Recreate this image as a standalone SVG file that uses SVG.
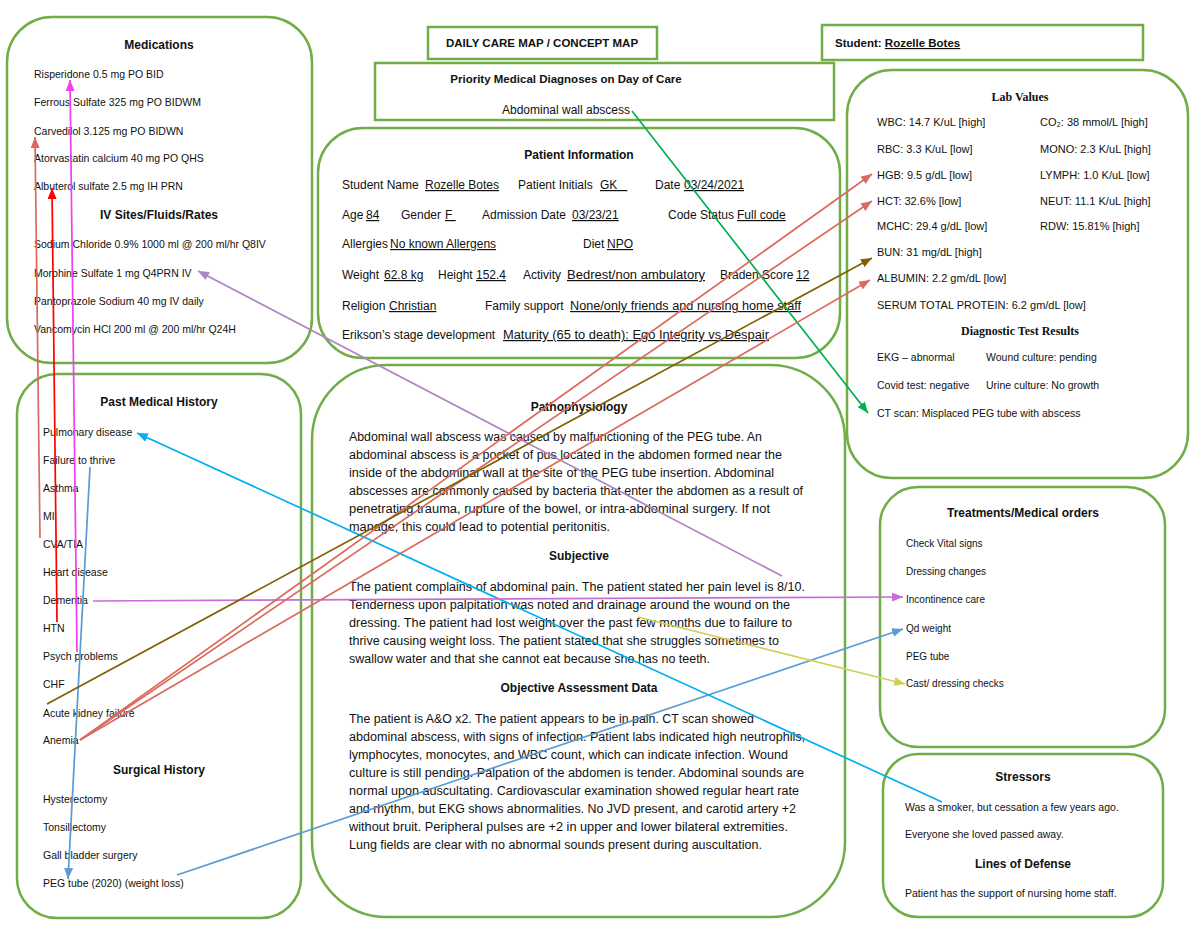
<svg xmlns="http://www.w3.org/2000/svg" width="1200" height="927" viewBox="0 0 1200 927">
<style>
.box{fill:#fff;stroke:#70AD47;stroke-width:2.5}
.t{font-family:"Liberation Sans",Arial,sans-serif;font-size:10.5px;fill:#111}
.h{font-family:"Liberation Sans",Arial,sans-serif;font-size:12px;font-weight:bold;fill:#111;text-anchor:middle}
.p{font-family:"Liberation Sans",Arial,sans-serif;font-size:12px;fill:#111}
.para{font-family:"Liberation Sans",Arial,sans-serif;font-size:12.5px;fill:#111}
.u{text-decoration:underline}
.lab{font-family:"Liberation Sans",Arial,sans-serif;font-size:11px;fill:#111}
.labh{font-family:"Liberation Serif","Times New Roman",serif;font-size:12px;font-weight:bold;fill:#111;text-anchor:middle}
.dg{font-family:"Liberation Sans",Arial,sans-serif;font-size:10.5px;fill:#111}
.tr{font-family:"Liberation Sans",Arial,sans-serif;font-size:10px;fill:#111}
.c{fill:none;stroke-width:1.7}
</style>
<defs>
<marker id="a-pink" markerUnits="userSpaceOnUse" markerWidth="11" markerHeight="9" refX="11" refY="4.5" orient="auto"><path d="M0,0 L11,4.5 L0,9 z" fill="#F23DF2"/></marker>
<marker id="a-salmon" markerUnits="userSpaceOnUse" markerWidth="11" markerHeight="9" refX="11" refY="4.5" orient="auto"><path d="M0,0 L11,4.5 L0,9 z" fill="#DB6A5E"/></marker>
<marker id="a-red" markerUnits="userSpaceOnUse" markerWidth="11" markerHeight="9" refX="11" refY="4.5" orient="auto"><path d="M0,0 L11,4.5 L0,9 z" fill="#FF0000"/></marker>
<marker id="a-blue" markerUnits="userSpaceOnUse" markerWidth="11" markerHeight="9" refX="11" refY="4.5" orient="auto"><path d="M0,0 L11,4.5 L0,9 z" fill="#5B9BD5"/></marker>
<marker id="a-cyan" markerUnits="userSpaceOnUse" markerWidth="11" markerHeight="9" refX="11" refY="4.5" orient="auto"><path d="M0,0 L11,4.5 L0,9 z" fill="#00B0F0"/></marker>
<marker id="a-violet" markerUnits="userSpaceOnUse" markerWidth="11" markerHeight="9" refX="11" refY="4.5" orient="auto"><path d="M0,0 L11,4.5 L0,9 z" fill="#C86DD7"/></marker>
<marker id="a-lilac" markerUnits="userSpaceOnUse" markerWidth="11" markerHeight="9" refX="11" refY="4.5" orient="auto"><path d="M0,0 L11,4.5 L0,9 z" fill="#B084C4"/></marker>
<marker id="a-yellow" markerUnits="userSpaceOnUse" markerWidth="11" markerHeight="9" refX="11" refY="4.5" orient="auto"><path d="M0,0 L11,4.5 L0,9 z" fill="#CFCF5A"/></marker>
<marker id="a-green" markerUnits="userSpaceOnUse" markerWidth="11" markerHeight="9" refX="11" refY="4.5" orient="auto"><path d="M0,0 L11,4.5 L0,9 z" fill="#00B050"/></marker>
<marker id="a-brown" markerUnits="userSpaceOnUse" markerWidth="11" markerHeight="9" refX="11" refY="4.5" orient="auto"><path d="M0,0 L11,4.5 L0,9 z" fill="#7F6000"/></marker>
</defs>
<rect width="1200" height="927" fill="#fff"/>

<g id="medications">
<rect class="box" x="7" y="17" width="305" height="346" rx="45"/>
<text class="h" x="159" y="49">Medications</text>
<text class="t" x="34" y="78">Risperidone 0.5 mg PO BID</text>
<text class="t" x="34" y="106">Ferrous Sulfate 325 mg PO BIDWM</text>
<text class="t" x="34" y="135">Carvedilol 3.125 mg PO BIDWN</text>
<text class="t" x="34" y="162">Atorvastatin calcium 40 mg PO QHS</text>
<text class="t" x="34" y="190">Albuterol sulfate 2.5 mg IH PRN</text>
<text class="h" x="159" y="219">IV Sites/Fluids/Rates</text>
<text class="t" x="34" y="248">Sodium Chloride 0.9% 1000 ml @ 200 ml/hr Q8IV</text>
<text class="t" x="34" y="277">Morphine Sulfate 1 mg Q4PRN IV</text>
<text class="t" x="34" y="305">Pantoprazole Sodium 40 mg IV daily</text>
<text class="t" x="34" y="333">Vancomycin HCl 200 ml @ 200 ml/hr Q24H</text>
</g>

<g id="past-medical-history">
<rect class="box" x="17" y="374" width="284" height="544" rx="40"/>
<text class="h" x="159" y="406">Past Medical History</text>
<text class="t" x="43" y="436">Pulmonary disease</text>
<text class="t" x="43" y="464">Failure to thrive</text>
<text class="t" x="43" y="492">Asthma</text>
<text class="t" x="43" y="520">MI</text>
<text class="t" x="43" y="548">CVA/TIA</text>
<text class="t" x="43" y="576">Heart disease</text>
<text class="t" x="43" y="604">Dementia</text>
<text class="t" x="43" y="632">HTN</text>
<text class="t" x="43" y="660">Psych problems</text>
<text class="t" x="43" y="688">CHF</text>
<text class="t" x="43" y="717">Acute kidney failure</text>
<text class="t" x="43" y="744">Anemia</text>
<text class="h" x="159" y="774">Surgical History</text>
<text class="t" x="43" y="803">Hysterectomy</text>
<text class="t" x="43" y="831">Tonsillectomy</text>
<text class="t" x="43" y="859">Gall bladder surgery</text>
<text class="t" x="43" y="887">PEG tube (2020) (weight loss)</text>
</g>

<g id="title">
<rect x="428" y="27" width="229" height="32" fill="#fff" stroke="#70AD47" stroke-width="2.5"/>
<text class="h" x="542" y="47" style="font-size:11.5px">DAILY CARE MAP / CONCEPT MAP</text>
</g>

<g id="student">
<rect x="822" y="25" width="321" height="35" fill="#fff" stroke="#70AD47" stroke-width="2.5"/>
<text x="835" y="47" style="font-family:'Liberation Sans',Arial,sans-serif;font-size:11.5px;font-weight:bold;fill:#111">Student: <tspan class="u">Rozelle Botes</tspan></text>
</g>

<g id="priority-diagnoses">
<rect x="375" y="63" width="459" height="57" fill="#fff" stroke="#70AD47" stroke-width="2.5"/>
<text class="h" x="566" y="83" style="font-size:11.5px">Priority Medical Diagnoses on Day of Care</text>
<text class="p" x="566" y="114" text-anchor="middle">Abdominal wall abscess</text>
</g>

<g id="patient-information">
<rect class="box" x="318" y="128" width="522" height="230" rx="45"/>
<text class="h" x="579" y="159">Patient Information</text>
<text class="p" x="342" y="189">Student Name</text>
<text class="p u" x="425" y="189">Rozelle Botes</text>
<text class="p" x="518" y="189">Patient Initials</text>
<text class="p u" x="600" y="189" xml:space="preserve">GK   </text>
<text class="p" x="655" y="189">Date</text>
<text class="p u" x="684" y="189">03/24/2021</text>
<text class="p" x="342" y="219">Age</text>
<text class="p u" x="366" y="219">84</text>
<text class="p" x="401" y="219">Gender</text>
<text class="p u" x="445" y="219" xml:space="preserve">F </text>
<text class="p" x="482" y="219">Admission Date</text>
<text class="p u" x="572" y="219">03/23/21</text>
<text class="p" x="668" y="219">Code Status</text>
<text class="p u" x="737" y="219">Full code</text>
<text class="p" x="342" y="248">Allergies</text>
<text class="p u" x="390" y="248">No known Allergens</text>
<text class="p" x="583" y="248">Diet</text>
<text class="p u" x="607" y="248">NPO</text>
<text class="p" x="342" y="279">Weight</text>
<text class="p u" x="384" y="279">62.8 kg</text>
<text class="p" x="438" y="279">Height</text>
<text class="p u" x="476" y="279">152.4</text>
<text class="p" x="523" y="279">Activity</text>
<text class="p u" x="567" y="279" textLength="138" lengthAdjust="spacingAndGlyphs">Bedrest/non ambulatory</text>
<text class="p" x="720" y="279">Braden Score</text>
<text class="p u" x="796" y="279">12</text>
<text class="p" x="342" y="310">Religion</text>
<text class="p u" x="389" y="310">Christian</text>
<text class="p" x="485" y="310">Family support</text>
<text class="p u" x="570" y="310" textLength="231" lengthAdjust="spacingAndGlyphs">None/only friends and nursing home staff</text>
<text class="p" x="342" y="339">Erikson’s stage development</text>
<text class="p u" x="503" y="339" textLength="266" lengthAdjust="spacingAndGlyphs">Maturity (65 to death): Ego Integrity vs Despair</text>
</g>

<g id="pathophysiology">
<rect class="box" x="312" y="365" width="533" height="552" rx="75"/>
<text class="h" x="579" y="411">Pathophysiology</text>
<text class="para" x="349" y="441" textLength="413" lengthAdjust="spacingAndGlyphs">Abdominal wall abscess was caused by malfunctioning of the PEG tube. An</text>
<text class="para" x="349" y="459" textLength="433" lengthAdjust="spacingAndGlyphs">abdominal abscess is a pocket of pus located in the abdomen formed near the</text>
<text class="para" x="349" y="477" textLength="425" lengthAdjust="spacingAndGlyphs">inside of the abdominal wall at the site of the PEG tube insertion. Abdominal</text>
<text class="para" x="349" y="495" textLength="454" lengthAdjust="spacingAndGlyphs">abscesses are commonly caused by bacteria that enter the abdomen as a result of</text>
<text class="para" x="349" y="513" textLength="421" lengthAdjust="spacingAndGlyphs">penetrating trauma, rupture of the bowel, or intra-abdominal surgery. If not</text>
<text class="para" x="349" y="531" textLength="261" lengthAdjust="spacingAndGlyphs">manage, this could lead to potential peritonitis.</text>
<text class="h" x="579" y="560">Subjective</text>
<text class="para" x="349" y="591" textLength="456" lengthAdjust="spacingAndGlyphs">The patient complains of abdominal pain. The patient stated her pain level is 8/10.</text>
<text class="para" x="349" y="609" textLength="441" lengthAdjust="spacingAndGlyphs">Tenderness upon palpitation was noted and drainage around the wound on the</text>
<text class="para" x="349" y="627" textLength="443" lengthAdjust="spacingAndGlyphs">dressing. The patient had lost weight over the past few months due to failure to</text>
<text class="para" x="349" y="645" textLength="430" lengthAdjust="spacingAndGlyphs">thrive causing weight loss. The patient stated that she struggles sometimes to</text>
<text class="para" x="349" y="663" textLength="361" lengthAdjust="spacingAndGlyphs">swallow water and that she cannot eat because she has no teeth.</text>
<text class="h" x="579" y="692">Objective Assessment Data</text>
<text class="para" x="349" y="723" textLength="405" lengthAdjust="spacingAndGlyphs">The patient is A&amp;O x2. The patient appears to be in pain. CT scan showed</text>
<text class="para" x="349" y="741" textLength="456" lengthAdjust="spacingAndGlyphs">abdominal abscess, with signs of infection. Patient labs indicated high neutrophils,</text>
<text class="para" x="349" y="759" textLength="439" lengthAdjust="spacingAndGlyphs">lymphocytes, monocytes, and WBC count, which can indicate infection. Wound</text>
<text class="para" x="349" y="777" textLength="455" lengthAdjust="spacingAndGlyphs">culture is still pending. Palpation of the abdomen is tender. Abdominal sounds are</text>
<text class="para" x="349" y="795" textLength="450" lengthAdjust="spacingAndGlyphs">normal upon auscultating. Cardiovascular examination showed regular heart rate</text>
<text class="para" x="349" y="813" textLength="447" lengthAdjust="spacingAndGlyphs">and rhythm, but EKG shows abnormalities. No JVD present, and carotid artery +2</text>
<text class="para" x="349" y="831" textLength="439" lengthAdjust="spacingAndGlyphs">without bruit. Peripheral pulses are +2 in upper and lower bilateral extremities.</text>
<text class="para" x="349" y="849" textLength="413" lengthAdjust="spacingAndGlyphs">Lung fields are clear with no abnormal sounds present during auscultation.</text>
</g>

<g id="lab-values">
<rect class="box" x="847" y="70" width="341" height="408" rx="45"/>
<text class="labh" x="1020" y="101">Lab Values</text>
<text class="lab" x="877" y="126">WBC: 14.7 K/uL [high]</text>
<text class="lab" x="877" y="153">RBC: 3.3 K/uL [low]</text>
<text class="lab" x="877" y="179">HGB: 9.5 g/dL [low]</text>
<text class="lab" x="877" y="205">HCT: 32.6% [low]</text>
<text class="lab" x="877" y="230">MCHC: 29.4 g/dL [low]</text>
<text class="lab" x="877" y="256">BUN: 31 mg/dL [high]</text>
<text class="lab" x="877" y="282">ALBUMIN: 2.2 gm/dL [low]</text>
<text class="lab" x="877" y="309">SERUM TOTAL PROTEIN: 6.2 gm/dL [low]</text>
<text class="lab" x="1040" y="126">CO₂: 38 mmol/L [high]</text>
<text class="lab" x="1040" y="153">MONO: 2.3 K/uL [high]</text>
<text class="lab" x="1040" y="179">LYMPH: 1.0 K/uL [low]</text>
<text class="lab" x="1040" y="205">NEUT: 11.1 K/uL [high]</text>
<text class="lab" x="1040" y="230">RDW: 15.81% [high]</text>
<text class="labh" x="1020" y="335">Diagnostic Test Results</text>
<text class="dg" x="877" y="361">EKG – abnormal</text>
<text class="dg" x="986" y="361">Wound culture: pending</text>
<text class="dg" x="877" y="389">Covid test: negative</text>
<text class="dg" x="986" y="389">Urine culture: No growth</text>
<text class="dg" x="877" y="417">CT scan: Misplaced PEG tube with abscess</text>
</g>

<g id="treatments">
<rect class="box" x="880" y="487" width="285" height="260" rx="38"/>
<text class="h" x="1023" y="517">Treatments/Medical orders</text>
<text class="tr" x="906" y="547">Check Vital signs</text>
<text class="tr" x="906" y="575">Dressing changes</text>
<text class="tr" x="906" y="603">Incontinence care</text>
<text class="tr" x="906" y="632">Qd weight</text>
<text class="tr" x="906" y="660">PEG tube</text>
<text class="tr" x="906" y="687">Cast/ dressing checks</text>
</g>

<g id="stressors">
<rect class="box" x="883" y="754" width="280" height="163" rx="35"/>
<text class="h" x="1023" y="781">Stressors</text>
<text class="t" x="905" y="811">Was a smoker, but cessation a few years ago.</text>
<text class="t" x="905" y="838">Everyone she loved passed away.</text>
<text class="h" x="1023" y="868">Lines of Defense</text>
<text class="t" x="905" y="897">Patient has the support of nursing home staff.</text>
</g>

<g id="connectors">
<line class="c" x1="77" y1="652" x2="70" y2="80" stroke="#F23DF2" marker-end="url(#a-pink)"/>
<line class="c" x1="40" y1="538" x2="35" y2="137" stroke="#DB6A5E" marker-end="url(#a-salmon)"/>
<line class="c" x1="57" y1="622" x2="52" y2="188" stroke="#FF0000" stroke-width="2" marker-end="url(#a-red)"/>
<line class="c" x1="90" y1="467" x2="68" y2="879" stroke="#5B9BD5" marker-end="url(#a-blue)"/>
<line class="c" x1="177" y1="875" x2="903" y2="629" stroke="#5B9BD5" marker-end="url(#a-blue)"/>
<line class="c" x1="942" y1="802" x2="137" y2="433" stroke="#00B0F0" stroke-width="2" marker-end="url(#a-cyan)"/>
<line class="c" x1="93" y1="601" x2="903" y2="597" stroke="#C86DD7" marker-end="url(#a-violet)"/>
<line class="c" x1="782" y1="576" x2="198" y2="271" stroke="#B084C4" marker-end="url(#a-lilac)"/>
<line class="c" x1="638" y1="617" x2="905" y2="684" stroke="#CFCF5A" marker-end="url(#a-yellow)"/>
<line class="c" x1="632" y1="111" x2="868" y2="413" stroke="#00B050" marker-end="url(#a-green)"/>
<line class="c" x1="80" y1="740" x2="872" y2="174" stroke="#DB6A5E" marker-end="url(#a-salmon)"/>
<line class="c" x1="80" y1="740" x2="872" y2="201" stroke="#DB6A5E" marker-end="url(#a-salmon)"/>
<line class="c" x1="80" y1="740" x2="870" y2="280" stroke="#DB6A5E" marker-end="url(#a-salmon)"/>
<line class="c" x1="47" y1="704" x2="872" y2="258" stroke="#7F6000" marker-end="url(#a-brown)"/>
</g>
</svg>
